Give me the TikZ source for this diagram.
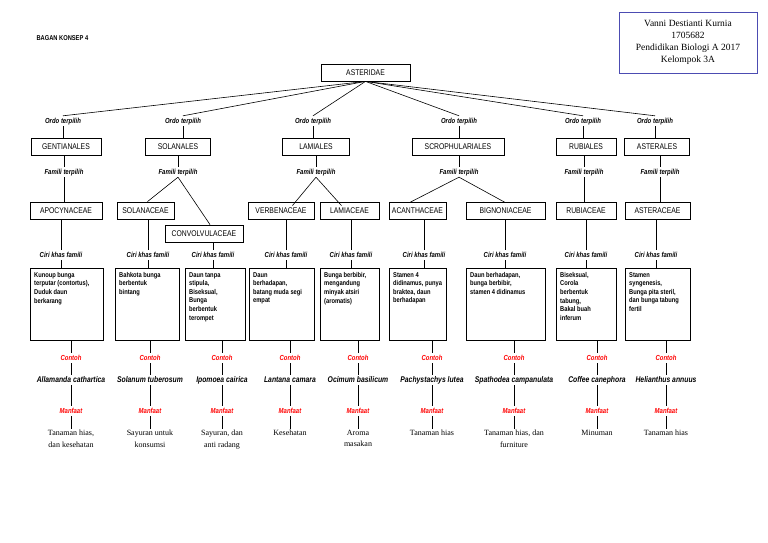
\documentclass[tikz,border=0pt]{standalone}
\usepackage{fontspec}
\setmainfont{Liberation Sans}[FakeStretch=0.82]
\newfontfamily\serifx{Liberation Serif}
\begin{document}
\begin{tikzpicture}[x=1pt,y=-1pt,
  box/.style={draw,thick,minimum height=17pt,inner sep=1pt,font=\fontsize{8.3}{9}\selectfont},
  lbl/.style={inner sep=1.5pt,text height=5.5pt,text depth=1.5pt,font=\bfseries\itshape\fontsize{7.3}{8}\selectfont},
  red/.style={lbl,text=red},
  sp/.style={lbl,font=\bfseries\itshape\fontsize{8.3}{9}\selectfont},
  desc/.style={draw,thick,anchor=north west,minimum height=72pt,inner sep=0pt},
  dtxt/.style={anchor=north west,align=left,inner sep=0pt,font=\bfseries\fontsize{7}{8.6}\selectfont},
  use/.style={inner sep=1pt,align=center,font=\serifx\fontsize{8}{11.5}\selectfont},
  ln/.style={draw,line width=0.6pt}]
\useasboundingbox (0,0) rectangle (768,543);
\node[anchor=west,font=\bfseries\fontsize{7}{8}\selectfont] (title) at (33,38) {BAGAN KONSEP 4};
\node[draw=blue!40!gray,thick,minimum width=138pt,minimum height=61pt,align=center,font=\serifx\fontsize{9.5}{12}\selectfont] (auth) at (688,42.5) {Vanni Destianti Kurnia\\1705682\\Pendidikan Biologi A 2017\\Kelompok 3A};
\node[box,minimum width=89pt] (root) at (365.5,72.5) {ASTERIDAE};
% orders
\foreach \n/\x/\ox/\w/\t in {o1/63/66/70/GENTIANALES,o2/183/178/65/SOLANALES,o3/313/316/67/LAMIALES,o4/459/458/92/SCROPHULARIALES,o5/583/586/60/RUBIALES,o6/655/657/65/ASTERALES}{
  \node[lbl] (l\n) at (\x,121) {Ordo terpilih};
  \draw[ln] (root.south) -- (l\n.north);
  \node[box,minimum width=\w pt] (\n) at (\ox,146.5) {\t};
  \draw[ln] (l\n) -- (\n.north -| l\n);
}
\foreach \n/\x in {o1/64,o2/178,o3/316,o4/459,o5/584,o6/660}{
  \node[lbl] (f\n) at (\x,172) {Famili terpilih};
}
\draw[ln] (o1.south -| fo1) -- (fo1);
\draw[ln] (o2) -- (fo2); \draw[ln] (o3) -- (fo3); \draw[ln] (o4.south -| fo4) -- (fo4);
\draw[ln] (o5.south -| fo5) -- (fo5); \draw[ln] (o6.south -| fo6) -- (fo6);
% families
\foreach \n/\x/\y/\w/\t in {a/66/210.5/72/APOCYNACEAE,b/145.5/210.5/57/SOLANACEAE,c/204/233.5/78/CONVOLVULACEAE,d/281/210.5/66/VERBENACEAE,e/349.5/210.5/59/LAMIACEAE,f/417.5/210.5/57/ACANTHACEAE,g/505.5/210.5/79/BIGNONIACEAE,h/586/210.5/60/RUBIACEAE,i/657.5/210.5/65/ASTERACEAE}{
  \node[box,minimum width=\w pt] (\n) at (\x,\y) {\t};
}
\draw[ln] (fo1.south -| a.north) ++(-2,0) -- ([xshift=-2pt]a.north);
\draw[ln] (fo2.south) -- ([xshift=2pt]b.north); \draw[ln] (fo2.south) -- ([xshift=6pt]c.north);
\draw[ln] (fo3.south) -- ([shift={(-22pt,-4pt)}]d.north east); \draw[ln] (fo3.south) -- ([shift={(-8pt,-4pt)}]e.north);
\draw[ln] (fo4.south) -- ([shift={(-8pt,-1pt)}]f.north); \draw[ln] (fo4.south) -- ([shift={(-40pt,-1pt)}]g.north east);
\draw[ln] (fo5) -- (h.north -| fo5); \draw[ln] (fo6) -- (i.north -| fo6);
% descriptions
\foreach \n/\cx/\bx/\bw/\px/\t/\sp/\u in {
 a/61/30/73/71/{Kunoup bunga\\terputar (contortus),\\Duduk daun\\berkarang}/{Allamanda cathartica}/{Tanaman hias,\\dan kesehatan},
 b/148/115/64/150/{Bahkota bunga\\berbentuk\\bintang}/{Solanum tuberosum}/{Sayuran untuk\\konsumsi},
 c/213/185/60/222/{Daun tanpa\\stipula,\\Biseksual,\\Bunga\\berbentuk\\terompet}/{Ipomoea cairica}/{Sayuran, dan\\anti radang},
 d/286/249/65/290/{Daun\\berhadapan,\\batang muda segi\\empat}/{Lantana camara}/{Kesehatan},
 e/351/320/59/358/{Bunga berbibir,\\mengandung\\minyak atsiri\\(aromatis)}/{Ocimum basilicum}/{Aroma\\masakan},
 f/424/389/57/432/{Stamen 4\\didinamus, punya\\braktea, daun\\berhadapan}/{Pachystachys lutea}/{Tanaman hias},
 g/505/466/79/514/{Daun berhadapan,\\bunga berbibir,\\stamen 4 didinamus}/{Spathodea campanulata}/{Tanaman hias, dan\\furniture},
 h/586/556/60/597/{Biseksual,\\Corola\\berbentuk\\tabung,\\Bakal buah\\inferum}/{Coffee canephora}/{Minuman},
 i/656/625/65/666/{Stamen\\syngenesis,\\Bunga pita steril,\\dan bunga tabung\\fertil}/{Helianthus annuus}/{Tanaman hias}}{
  \node[lbl] (k\n) at (\cx,255) {Ciri khas famili};
  \draw[ln] (\n.south -| k\n) -- (k\n);
  \node[desc,minimum width=\bw pt] (d\n) at (\bx,268) {};
  \node[dtxt] (t\n) at (\bx+4,272) {\t};
  \draw[ln] (k\n) -- (d\n.north -| k\n);
  \node[red] (c\n) at (\px,358) {Contoh};
  \draw[ln] (d\n.south -| c\n) -- (c\n);
  \node[sp] (s\n) at (\px,380) {\sp};
  \draw[ln] (c\n) -- (s\n);
  \node[red] (m\n) at (\px,411) {Manfaat};
  \draw[ln] (s\n) -- (m\n);
  \node[use,anchor=north] (u\n) at (\px,429) {\u};
  \draw[ln] (m\n) -- (u\n);
}
\end{tikzpicture}
\end{document}
